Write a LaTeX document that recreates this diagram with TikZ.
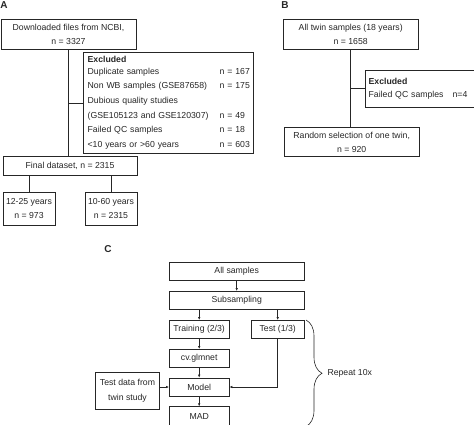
\documentclass[tikz,border=0pt]{standalone}
\usepackage{fontspec}
\setmainfont{Liberation Sans}
\usetikzlibrary{positioning, arrows.meta, decorations.pathreplacing}

\newcommand{\exrow}[3]{\mbox{\makebox[#1][l]{#2}#3}}

\begin{document}
\begin{tikzpicture}[x=1pt, y=-1pt,
    box/.style={draw=black!85, line width=0.7pt, rectangle, align=center, inner sep=0pt, text=black!85, font=\fontsize{8.7}{14}\selectfont},
    panel/.style={font=\fontsize{10}{12}\selectfont\bfseries, text=black!85},
    link/.style={draw=black!85, line width=0.6pt},
    arr/.style={link, -{Latex[length=3pt, width=2.6pt]}}]
    \useasboundingbox (0,0) rectangle (474,425);

    % Panel A
    \node[panel] (labA) at (4,5) {A};
    \node[box, minimum width=135pt, minimum height=30pt] (ncbi) at (68.5,34.3) {Downloaded files from NCBI,\\n = 3327};
    \node[box, anchor=north west, text width=165pt, inner xsep=2.5pt, minimum height=101pt, align=left, font=\fontsize{8.7}{14.6}\selectfont] (exclA) at (83,52)
        {\hspace*{1.8pt}\textbf{Excluded}\\[-3.3pt]
         \exrow{133.8pt}{\hspace*{1.8pt}Duplicate samples}{n = 167}\\
         \exrow{133.8pt}{\hspace*{1.8pt}Non WB samples (GSE87658)}{n = 175}\\
         \hspace*{1.8pt}Dubious quality studies\\
         \exrow{133.8pt}{\hspace*{1.8pt}(GSE105123 and GSE120307)}{n = 49}\\
         \exrow{133.8pt}{\hspace*{1.8pt}Failed QC samples}{n = 18}\\
         \exrow{133.8pt}{\hspace*{1.8pt}<10 years or >60 years}{n = 603}};
    \node[box, minimum width=134pt, minimum height=19pt] (final) at (70,165.5) {Final dataset, n = 2315};
    \node[box, minimum width=52pt, minimum height=33pt] (young) at (29,208.5) {12-25 years\\n = 973};
    \node[box, minimum width=52pt, minimum height=33pt] (wide) at (111,208.5) {10-60 years\\n = 2315};

    % Panel B
    \node[panel] (labB) at (285,5) {B};
    \node[box, minimum width=134.7pt, minimum height=30pt] (twins) at (350.7,34.3) {All twin samples (18 years)\\n = 1658};
    \node[box, anchor=west, text width=108pt, inner xsep=3.6pt, minimum height=36.7pt, align=left, font=\fontsize{8.7}{12.7}\selectfont] (exclB) at (364.7,88.7)
        {\textbf{Excluded}\\
         \exrow{84pt}{Failed QC samples}{n=4}};
    \node[box, minimum width=134.7pt, minimum height=29pt] (random) at (351.7,142.2) {Random selection of one twin,\\n = 920};

    % Panel C
    \node[panel] (labC) at (108,249) {C};
    \node[box, minimum width=134.7pt, minimum height=17.7pt] (all) at (236.7,271.5) {All samples};
    \node[box, minimum width=134.7pt, minimum height=17.7pt] (sub) at (236.7,300.2) {Subsampling};
    \node[box, minimum width=59.7pt, minimum height=17.7pt] (train) at (199.2,329.2) {Training (2/3)};
    \node[box, minimum width=52.7pt, minimum height=17.7pt] (test) at (277.7,329.2) {Test (1/3)};
    \node[box, minimum width=59.7pt, minimum height=17.7pt] (cv) at (199.2,358.2) {cv.glmnet};
    \node[box, minimum width=59.7pt, minimum height=18pt] (model) at (199.2,387) {Model};
    \node[box, minimum width=59.7pt, minimum height=19.6pt] (mad) at (199.2,416.5) {MAD};
    \node[box, minimum width=64.3pt, minimum height=36.7pt, font=\fontsize{8.7}{14.7}\selectfont] (twin) at (127.5,390.7) {Test data from\\twin study};
    \node[anchor=west, text=black!85, font=\fontsize{8.7}{14}\selectfont] (rep) at (324,373) {Repeat 10x};
    \coordinate (bractop) at (306,320);
    \coordinate (bracbot) at (306,426.5);

    % Lines
    \draw[link] (ncbi.south) -- (ncbi.south |- final.north);
    \draw[link] (ncbi.south |- exclA.west) -- (exclA.west);
    \draw[link] (young.north |- final.south) -- (young.north);
    \draw[link] (wide.north |- final.south) -- (wide.north);
    \draw[link] (twins.south) -- (twins.south |- random.north);
    \draw[link] (twins.south |- exclB.west) -- (exclB.west);

    % Arrows
    \draw[arr] (all.south) -- (sub.north);
    \draw[arr] (sub.south -| train) -- (train.north);
    \draw[arr] (sub.south -| test) -- (test.north);
    \draw[arr] (train.south) -- (cv.north);
    \draw[arr] (cv.south) -- (model.north);
    \draw[arr] (model.south) -- (mad.north);
    \draw[arr] (test.south) |- (model.east);
    \draw[arr] (twin.east |- model.west) -- (model.west);
    \draw[link, decorate, decoration={brace, amplitude=16pt}] (bractop) -- (bracbot);
\end{tikzpicture}
\end{document}
